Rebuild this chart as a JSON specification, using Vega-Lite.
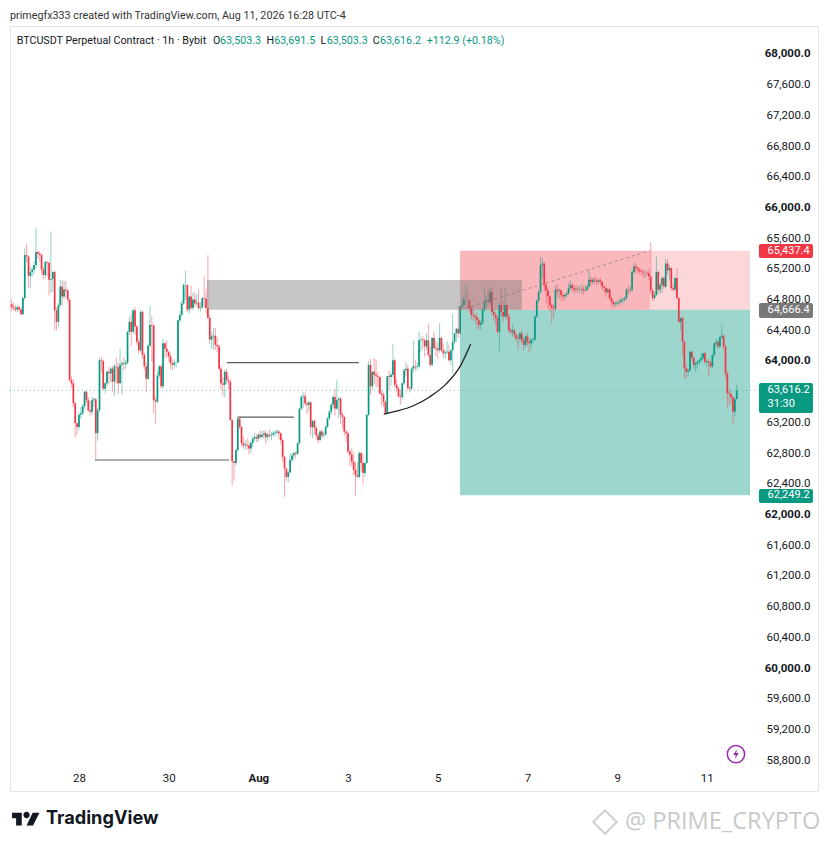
{"$schema":"https://vega.github.io/schema/vega-lite/v6.json","width":808,"height":765,"autosize":"none","padding":{"left":10,"top":26,"right":10,"bottom":56},"background":"white","config":{"view":{"stroke":"#e0e3eb"},"font":"Roboto"},"resolve":{"scale":{"color":"independent"}},
"title":{"text":"primegfx333 created with TradingView.com, Aug 11, 2026 16:28 UTC-4","anchor":"start","frame":"group","font":"Roboto","fontSize":10.75,"fontWeight":"normal","color":"#333333","offset":4},
"datasets":{"candles":[
{"t":-36,"o":64740,"h":64800,"l":64650,"c":64700},{"t":-35,"o":64700,"h":64760,"l":64660,"c":64690},{"t":-34,"o":64690,"h":64730,"l":64640,"c":64670},{"t":-33,"o":64670,"h":64730,"l":64640,"c":64700},{"t":-32,"o":64700,"h":64720,"l":64640,"c":64670},{"t":-31,"o":64670,"h":64700,"l":64590,"c":64610},{"t":-30,"o":64610,"h":64830,"l":64600,"c":64820},{"t":-29,"o":64820,"h":65470,"l":64800,"c":65380},{"t":-28,"o":65380,"h":65530,"l":65280,"c":65360},{"t":-27,"o":65360,"h":65370,"l":64950,"c":65110},{"t":-26,"o":65110,"h":65230,"l":64950,"c":65160},{"t":-25,"o":65160,"h":65230,"l":65100,"c":65190},{"t":-24,"o":65190,"h":65300,"l":65130,"c":65250},{"t":-23,"o":65250,"h":65740,"l":65210,"c":65420},{"t":-22,"o":65420,"h":65440,"l":65330,"c":65400},{"t":-21,"o":65400,"h":65420,"l":65290,"c":65380},{"t":-20,"o":65380,"h":65400,"l":65130,"c":65190},{"t":-19,"o":65190,"h":65230,"l":65060,"c":65120},{"t":-18,"o":65120,"h":65310,"l":65080,"c":65290},{"t":-17,"o":65290,"h":65300,"l":65100,"c":65280},{"t":-16,"o":65280,"h":65290,"l":64850,"c":65060},{"t":-15,"o":65060,"h":65690,"l":64880,"c":65070},{"t":-14,"o":65070,"h":65170,"l":64900,"c":65160},{"t":-13,"o":65160,"h":65180,"l":64400,"c":64660},{"t":-12,"o":64660,"h":64700,"l":64400,"c":64510},{"t":-11,"o":64510,"h":64760,"l":64440,"c":64730},{"t":-10,"o":64730,"h":65060,"l":64700,"c":64970},{"t":-9,"o":64970,"h":65050,"l":64720,"c":64840},{"t":-8,"o":64840,"h":65050,"l":64800,"c":64930},{"t":-7,"o":64930,"h":65040,"l":64820,"c":64920},{"t":-6,"o":64920,"h":64940,"l":64760,"c":64800},{"t":-5,"o":64800,"h":64810,"l":63730,"c":63750},{"t":-4,"o":63750,"h":63800,"l":63650,"c":63710},{"t":-3,"o":63710,"h":63760,"l":63400,"c":63450},{"t":-2,"o":63450,"h":63470,"l":63000,"c":63190},{"t":-1,"o":63190,"h":63200,"l":63040,"c":63140},
{"t":0,"o":63140,"h":63330,"l":63100,"c":63300},{"t":1,"o":63300,"h":63400,"l":63250,"c":63320},{"t":2,"o":63320,"h":63440,"l":63290,"c":63410},{"t":3,"o":63410,"h":63610,"l":63380,"c":63600},{"t":4,"o":63600,"h":63610,"l":63450,"c":63490},{"t":5,"o":63490,"h":63530,"l":63330,"c":63360},{"t":6,"o":63360,"h":63480,"l":63290,"c":63340},{"t":7,"o":63340,"h":63530,"l":63300,"c":63490},{"t":8,"o":63490,"h":63530,"l":63400,"c":63500},{"t":9,"o":63500,"h":63520,"l":62710,"c":63060},{"t":10,"o":63060,"h":63390,"l":62960,"c":63360},{"t":11,"o":63360,"h":64040,"l":63340,"c":64010},{"t":12,"o":64010,"h":64060,"l":63850,"c":64000},{"t":13,"o":64000,"h":64020,"l":63620,"c":63640},{"t":14,"o":63640,"h":63730,"l":63580,"c":63710},{"t":15,"o":63710,"h":63880,"l":63680,"c":63860},{"t":16,"o":63860,"h":63920,"l":63700,"c":63840},{"t":17,"o":63840,"h":63920,"l":63720,"c":63900},{"t":18,"o":63900,"h":63940,"l":63600,"c":63730},{"t":19,"o":63730,"h":63960,"l":63540,"c":63930},{"t":20,"o":63930,"h":64040,"l":63700,"c":63920},{"t":21,"o":63920,"h":63980,"l":63570,"c":63710},{"t":22,"o":63710,"h":64160,"l":63700,"c":63950},{"t":23,"o":63950,"h":64000,"l":63560,"c":63970},{"t":24,"o":63970,"h":64050,"l":63880,"c":63960},{"t":25,"o":63960,"h":64010,"l":63900,"c":63980},{"t":26,"o":63980,"h":64390,"l":63950,"c":64380},{"t":27,"o":64380,"h":64580,"l":64340,"c":64510},{"t":28,"o":64510,"h":64620,"l":64200,"c":64380},{"t":29,"o":64380,"h":64680,"l":64360,"c":64660},{"t":30,"o":64660,"h":64700,"l":64340,"c":64450},{"t":31,"o":64450,"h":64470,"l":64210,"c":64250},{"t":32,"o":64250,"h":64290,"l":64090,"c":64140},{"t":33,"o":64140,"h":64660,"l":64120,"c":64640},{"t":34,"o":64640,"h":64660,"l":64030,"c":64080},{"t":35,"o":64080,"h":64110,"l":63880,"c":63930},{"t":36,"o":63930,"h":63980,"l":63600,"c":63770},{"t":37,"o":63770,"h":64220,"l":63750,"c":64200},{"t":38,"o":64200,"h":64720,"l":64180,"c":64470},{"t":39,"o":64470,"h":64580,"l":63990,"c":64460},{"t":40,"o":64460,"h":64480,"l":63320,"c":63490},{"t":41,"o":63490,"h":63530,"l":63180,"c":63470},{"t":42,"o":63470,"h":63860,"l":63450,"c":63810},{"t":43,"o":63810,"h":63950,"l":63780,"c":63930},{"t":44,"o":63930,"h":63960,"l":63640,"c":63670},{"t":45,"o":63670,"h":64290,"l":63650,"c":64230},{"t":46,"o":64230,"h":64240,"l":64040,"c":64160},{"t":47,"o":64160,"h":64270,"l":64050,"c":64120},{"t":48,"o":64120,"h":64130,"l":63990,"c":64060},{"t":49,"o":64060,"h":64100,"l":63890,"c":63970},{"t":50,"o":63970,"h":64020,"l":63880,"c":63950},{"t":51,"o":63950,"h":64020,"l":63920,"c":63980},{"t":52,"o":63980,"h":64000,"l":63910,"c":63980},{"t":53,"o":63980,"h":64540,"l":63970,"c":64530},{"t":54,"o":64530,"h":64650,"l":64500,"c":64600},{"t":55,"o":64600,"h":64790,"l":64580,"c":64750},{"t":56,"o":64750,"h":65010,"l":64730,"c":64990},{"t":57,"o":64990,"h":65180,"l":64800,"c":64990},{"t":58,"o":64990,"h":65000,"l":64640,"c":64670},{"t":59,"o":64670,"h":64860,"l":64620,"c":64840},{"t":60,"o":64840,"h":64980,"l":64660,"c":64690},{"t":61,"o":64690,"h":64890,"l":64660,"c":64800},{"t":62,"o":64800,"h":64900,"l":64700,"c":64750},{"t":63,"o":64750,"h":64870,"l":64720,"c":64760},{"t":64,"o":64760,"h":64930,"l":64660,"c":64690},{"t":65,"o":64690,"h":64770,"l":64640,"c":64700},{"t":66,"o":64700,"h":64830,"l":64670,"c":64820},{"t":67,"o":64820,"h":65100,"l":64700,"c":64810},{"t":68,"o":64810,"h":64940,"l":64620,"c":64690},{"t":69,"o":64690,"h":65380,"l":64550,"c":64560},{"t":70,"o":64560,"h":64600,"l":64220,"c":64280},{"t":71,"o":64280,"h":64380,"l":64160,"c":64320},{"t":72,"o":64320,"h":64430,"l":64150,"c":64330},{"t":73,"o":64330,"h":64430,"l":64140,"c":64210},{"t":74,"o":64210,"h":64310,"l":64110,"c":64190},{"t":75,"o":64190,"h":64210,"l":63880,"c":63900},{"t":76,"o":63900,"h":63930,"l":63620,"c":63710},{"t":77,"o":63710,"h":63790,"l":63540,"c":63690},{"t":78,"o":63690,"h":63890,"l":63530,"c":63860},{"t":79,"o":63860,"h":63900,"l":63700,"c":63750},{"t":80,"o":63750,"h":63800,"l":63620,"c":63730},{"t":81,"o":63730,"h":63760,"l":63220,"c":63230},{"t":82,"o":63230,"h":63240,"l":62380,"c":62690},{"t":83,"o":62690,"h":62700,"l":62440,"c":62670},{"t":84,"o":62670,"h":62860,"l":62640,"c":62840},{"t":85,"o":62840,"h":63270,"l":62820,"c":63250},{"t":86,"o":63250,"h":63270,"l":63110,"c":63140},{"t":87,"o":63140,"h":63160,"l":62880,"c":62930},{"t":88,"o":62930,"h":63010,"l":62860,"c":62900},{"t":89,"o":62900,"h":62970,"l":62840,"c":62910},{"t":90,"o":62910,"h":62990,"l":62850,"c":62900},{"t":91,"o":62900,"h":62950,"l":62780,"c":62860},{"t":92,"o":62860,"h":62960,"l":62800,"c":62930},{"t":93,"o":62930,"h":63020,"l":62880,"c":62990},{"t":94,"o":62990,"h":63060,"l":62960,"c":63010},{"t":95,"o":63010,"h":63040,"l":62940,"c":62990},
{"t":96,"o":62990,"h":63060,"l":62950,"c":63040},{"t":97,"o":63040,"h":63100,"l":62980,"c":63010},{"t":98,"o":63010,"h":63090,"l":62990,"c":63040},{"t":99,"o":63040,"h":63100,"l":62980,"c":63060},{"t":100,"o":63060,"h":63090,"l":62920,"c":63010},{"t":101,"o":63010,"h":63060,"l":62960,"c":63040},{"t":102,"o":63040,"h":63110,"l":63000,"c":63030},{"t":103,"o":63030,"h":63080,"l":62970,"c":63040},{"t":104,"o":63040,"h":63090,"l":63010,"c":63060},{"t":105,"o":63060,"h":63100,"l":63020,"c":63070},{"t":106,"o":63070,"h":63110,"l":63030,"c":63080},{"t":107,"o":63080,"h":63100,"l":62980,"c":63060},{"t":108,"o":63060,"h":63070,"l":62920,"c":62970},{"t":109,"o":62970,"h":62990,"l":62690,"c":62750},{"t":110,"o":62750,"h":62770,"l":62230,"c":62600},{"t":111,"o":62600,"h":62610,"l":62440,"c":62490},{"t":112,"o":62490,"h":62570,"l":62420,"c":62550},{"t":113,"o":62550,"h":62800,"l":62530,"c":62710},{"t":114,"o":62710,"h":62800,"l":62680,"c":62770},{"t":115,"o":62770,"h":62820,"l":62720,"c":62800},{"t":116,"o":62800,"h":62830,"l":62730,"c":62790},{"t":117,"o":62790,"h":62940,"l":62780,"c":62930},{"t":118,"o":62930,"h":63390,"l":62910,"c":63380},{"t":119,"o":63380,"h":63560,"l":63360,"c":63530},{"t":120,"o":63530,"h":63590,"l":63390,"c":63540},{"t":121,"o":63540,"h":63590,"l":63420,"c":63450},{"t":122,"o":63450,"h":63470,"l":63310,"c":63430},{"t":123,"o":63430,"h":63480,"l":63340,"c":63460},{"t":124,"o":63460,"h":63470,"l":63030,"c":63140},{"t":125,"o":63140,"h":63230,"l":62990,"c":63220},{"t":126,"o":63220,"h":63240,"l":63040,"c":63130},{"t":127,"o":63130,"h":63150,"l":62980,"c":63030},{"t":128,"o":63030,"h":63060,"l":62930,"c":62970},{"t":129,"o":62970,"h":63100,"l":62950,"c":63080},{"t":130,"o":63080,"h":63110,"l":62990,"c":63030},{"t":131,"o":63030,"h":63080,"l":63000,"c":63040},{"t":132,"o":63040,"h":63160,"l":63030,"c":63140},{"t":133,"o":63140,"h":63270,"l":63130,"c":63250},{"t":134,"o":63250,"h":63360,"l":63230,"c":63340},{"t":135,"o":63340,"h":63450,"l":63300,"c":63430},{"t":136,"o":63430,"h":63560,"l":63380,"c":63530},{"t":137,"o":63530,"h":63640,"l":63290,"c":63380},{"t":138,"o":63380,"h":63760,"l":63360,"c":63490},{"t":139,"o":63490,"h":63530,"l":63250,"c":63510},{"t":140,"o":63510,"h":63530,"l":63180,"c":63300},{"t":141,"o":63300,"h":63330,"l":63120,"c":63270},{"t":142,"o":63270,"h":63290,"l":63030,"c":63080},{"t":143,"o":63080,"h":63100,"l":62940,"c":63060},{"t":144,"o":63060,"h":63080,"l":62790,"c":62820},{"t":145,"o":62820,"h":62840,"l":62620,"c":62780},{"t":146,"o":62780,"h":62870,"l":62640,"c":62690},{"t":147,"o":62690,"h":62820,"l":62510,"c":62580},{"t":148,"o":62580,"h":62680,"l":62250,"c":62510},{"t":149,"o":62510,"h":62680,"l":62480,"c":62490},{"t":150,"o":62490,"h":62830,"l":62470,"c":62800},{"t":151,"o":62800,"h":62810,"l":62560,"c":62670},{"t":152,"o":62670,"h":62790,"l":62400,"c":62540},{"t":153,"o":62540,"h":62680,"l":62490,"c":62670},{"t":154,"o":62670,"h":63310,"l":62660,"c":63300},{"t":155,"o":63300,"h":64000,"l":63280,"c":63950},{"t":156,"o":63950,"h":64030,"l":63560,"c":63670},{"t":157,"o":63670,"h":63870,"l":63620,"c":63860},{"t":158,"o":63860,"h":64040,"l":63700,"c":63820},{"t":159,"o":63820,"h":64020,"l":63650,"c":63800},{"t":160,"o":63800,"h":63860,"l":63660,"c":63790},{"t":161,"o":63790,"h":63810,"l":63560,"c":63580},{"t":162,"o":63580,"h":63620,"l":63420,"c":63560},{"t":163,"o":63560,"h":63590,"l":63400,"c":63470},{"t":164,"o":63470,"h":63480,"l":63300,"c":63320},{"t":165,"o":63320,"h":63810,"l":63300,"c":63800},{"t":166,"o":63800,"h":63880,"l":63620,"c":63790},{"t":167,"o":63790,"h":63850,"l":63680,"c":63820},{"t":168,"o":63820,"h":64220,"l":63790,"c":64010},{"t":169,"o":64010,"h":64030,"l":63660,"c":63690},{"t":170,"o":63690,"h":63760,"l":63600,"c":63640},{"t":171,"o":63640,"h":63670,"l":63520,"c":63540},{"t":172,"o":63540,"h":63630,"l":63430,"c":63530},{"t":173,"o":63530,"h":63720,"l":63500,"c":63710},{"t":174,"o":63710,"h":63900,"l":63690,"c":63880},{"t":175,"o":63880,"h":63990,"l":63800,"c":63900},{"t":176,"o":63900,"h":63950,"l":63620,"c":63650},{"t":177,"o":63650,"h":63670,"l":63590,"c":63640},{"t":178,"o":63640,"h":63920,"l":63620,"c":63900},{"t":179,"o":63900,"h":64260,"l":63850,"c":63930},{"t":180,"o":63930,"h":64020,"l":63870,"c":63920},{"t":181,"o":63920,"h":63980,"l":63880,"c":63930},{"t":182,"o":63930,"h":64380,"l":63910,"c":64270},{"t":183,"o":64270,"h":64310,"l":64120,"c":64280},{"t":184,"o":64280,"h":64330,"l":64150,"c":64270},{"t":185,"o":64270,"h":64300,"l":64050,"c":64190},{"t":186,"o":64190,"h":64360,"l":64150,"c":64270},{"t":187,"o":64270,"h":64490,"l":64050,"c":64080},{"t":188,"o":64080,"h":64190,"l":63920,"c":63950},{"t":189,"o":63950,"h":64310,"l":63930,"c":64300},{"t":190,"o":64300,"h":64380,"l":64140,"c":64170},{"t":191,"o":64170,"h":64260,"l":64060,"c":64160},{"t":192,"o":64160,"h":64240,"l":64030,"c":64140},{"t":193,"o":64140,"h":64490,"l":64110,"c":64300},{"t":194,"o":64300,"h":64320,"l":64120,"c":64140},{"t":195,"o":64140,"h":64230,"l":64040,"c":64100},{"t":196,"o":64100,"h":64150,"l":64030,"c":64110},{"t":197,"o":64110,"h":64260,"l":64090,"c":64120},{"t":198,"o":64120,"h":64210,"l":63990,"c":64010},{"t":199,"o":64010,"h":64150,"l":63950,"c":64140},{"t":200,"o":64140,"h":64620,"l":63840,"c":64250},{"t":201,"o":64250,"h":64370,"l":64220,"c":64360},{"t":202,"o":64360,"h":64430,"l":64250,"c":64420},{"t":203,"o":64420,"h":64710,"l":64300,"c":64360},
{"t":204,"o":64360,"h":64720,"l":64340,"c":64710},{"t":205,"o":64710,"h":64830,"l":64690,"c":64730},{"t":206,"o":64730,"h":64880,"l":64700,"c":64800},{"t":207,"o":64800,"h":64990,"l":64720,"c":64800},{"t":208,"o":64800,"h":64920,"l":64700,"c":64790},{"t":209,"o":64790,"h":64800,"l":64640,"c":64690},{"t":210,"o":64690,"h":64720,"l":64540,"c":64600},{"t":211,"o":64600,"h":64680,"l":64530,"c":64590},{"t":212,"o":64590,"h":64620,"l":64480,"c":64570},{"t":213,"o":64570,"h":64630,"l":64420,"c":64530},{"t":214,"o":64530,"h":64560,"l":64400,"c":64470},{"t":215,"o":64470,"h":64530,"l":64400,"c":64500},{"t":216,"o":64500,"h":64690,"l":64470,"c":64670},{"t":217,"o":64670,"h":64970,"l":64640,"c":64770},{"t":218,"o":64770,"h":64850,"l":64690,"c":64790},{"t":219,"o":64790,"h":64930,"l":64730,"c":64770},{"t":220,"o":64770,"h":64960,"l":64740,"c":64900},{"t":221,"o":64900,"h":64960,"l":64590,"c":64640},{"t":222,"o":64640,"h":64680,"l":64520,"c":64600},{"t":223,"o":64600,"h":64640,"l":64460,"c":64560},{"t":224,"o":64560,"h":64590,"l":64350,"c":64380},{"t":225,"o":64380,"h":64750,"l":64130,"c":64730},{"t":226,"o":64730,"h":64950,"l":64580,"c":64640},{"t":227,"o":64640,"h":64780,"l":64510,"c":64580},{"t":228,"o":64580,"h":64950,"l":64560,"c":64730},{"t":229,"o":64730,"h":64750,"l":64530,"c":64580},{"t":230,"o":64580,"h":64620,"l":64370,"c":64400},{"t":231,"o":64400,"h":64440,"l":64340,"c":64380},{"t":232,"o":64380,"h":64470,"l":64320,"c":64400},{"t":233,"o":64400,"h":64420,"l":64290,"c":64340},{"t":234,"o":64340,"h":64370,"l":64250,"c":64300},{"t":235,"o":64300,"h":64350,"l":64150,"c":64290},{"t":236,"o":64290,"h":64380,"l":64240,"c":64360},{"t":237,"o":64360,"h":64400,"l":64230,"c":64270},{"t":238,"o":64270,"h":64300,"l":64140,"c":64210},{"t":239,"o":64210,"h":64340,"l":64170,"c":64320},{"t":240,"o":64320,"h":64370,"l":64200,"c":64250},{"t":241,"o":64250,"h":64300,"l":64110,"c":64230},{"t":242,"o":64230,"h":64300,"l":64170,"c":64270},{"t":243,"o":64270,"h":64310,"l":64220,"c":64280},{"t":244,"o":64280,"h":64590,"l":64260,"c":64580},{"t":245,"o":64580,"h":64800,"l":64560,"c":64790},{"t":246,"o":64790,"h":64930,"l":64760,"c":64900},{"t":247,"o":64900,"h":65360,"l":64880,"c":65250},{"t":248,"o":65250,"h":65330,"l":65080,"c":65270},{"t":249,"o":65270,"h":65290,"l":64910,"c":64990},{"t":250,"o":64990,"h":65030,"l":64750,"c":64920},{"t":251,"o":64920,"h":64950,"l":64680,"c":64840},{"t":252,"o":64840,"h":64860,"l":64640,"c":64730},{"t":253,"o":64730,"h":64750,"l":64490,"c":64690},{"t":254,"o":64690,"h":64740,"l":64560,"c":64680},{"t":255,"o":64680,"h":64990,"l":64650,"c":64930},{"t":256,"o":64930,"h":65000,"l":64830,"c":64910},{"t":257,"o":64910,"h":64950,"l":64810,"c":64920},{"t":258,"o":64920,"h":64940,"l":64790,"c":64860},{"t":259,"o":64860,"h":64880,"l":64770,"c":64840},{"t":260,"o":64840,"h":64880,"l":64800,"c":64860},{"t":261,"o":64860,"h":64900,"l":64830,"c":64880},{"t":262,"o":64880,"h":65020,"l":64860,"c":64950},{"t":263,"o":64950,"h":65050,"l":64920,"c":64990},{"t":264,"o":64990,"h":65020,"l":64900,"c":64950},{"t":265,"o":64950,"h":64990,"l":64880,"c":64930},{"t":266,"o":64930,"h":64980,"l":64890,"c":64940},{"t":267,"o":64940,"h":64990,"l":64890,"c":64930},{"t":268,"o":64930,"h":64970,"l":64880,"c":64930},{"t":269,"o":64930,"h":65000,"l":64880,"c":64940},{"t":270,"o":64940,"h":64980,"l":64860,"c":64920},{"t":271,"o":64920,"h":64990,"l":64900,"c":64930},{"t":272,"o":64930,"h":65000,"l":64910,"c":64970},{"t":273,"o":64970,"h":65190,"l":64950,"c":65060},{"t":274,"o":65060,"h":65100,"l":64980,"c":65030},{"t":275,"o":65030,"h":65090,"l":64990,"c":65060},{"t":276,"o":65060,"h":65110,"l":65010,"c":65050},{"t":277,"o":65050,"h":65080,"l":64980,"c":65030},{"t":278,"o":65030,"h":65070,"l":65000,"c":65050},{"t":279,"o":65050,"h":65090,"l":64990,"c":65030},{"t":280,"o":65030,"h":65040,"l":64930,"c":64970},{"t":281,"o":64970,"h":64990,"l":64890,"c":64950},{"t":282,"o":64950,"h":64970,"l":64830,"c":64900},{"t":283,"o":64900,"h":64950,"l":64870,"c":64930},{"t":284,"o":64930,"h":64950,"l":64790,"c":64820},{"t":285,"o":64820,"h":64850,"l":64710,"c":64770},{"t":286,"o":64770,"h":64800,"l":64690,"c":64740},{"t":287,"o":64740,"h":64780,"l":64700,"c":64750},{"t":288,"o":64750,"h":64790,"l":64720,"c":64760},{"t":289,"o":64760,"h":64800,"l":64730,"c":64770},{"t":290,"o":64770,"h":64830,"l":64740,"c":64790},{"t":291,"o":64790,"h":64830,"l":64750,"c":64800},{"t":292,"o":64800,"h":64840,"l":64770,"c":64820},{"t":293,"o":64820,"h":64950,"l":64790,"c":64930},{"t":294,"o":64930,"h":64980,"l":64860,"c":64920},{"t":295,"o":64920,"h":64970,"l":64880,"c":64930},{"t":296,"o":64930,"h":65190,"l":64900,"c":65160},{"t":297,"o":65160,"h":65280,"l":65130,"c":65230},{"t":298,"o":65230,"h":65270,"l":65150,"c":65210},{"t":299,"o":65210,"h":65240,"l":65150,"c":65190},{"t":300,"o":65190,"h":65220,"l":65130,"c":65170},{"t":301,"o":65170,"h":65200,"l":65110,"c":65160},{"t":302,"o":65160,"h":65190,"l":65090,"c":65150},{"t":303,"o":65150,"h":65180,"l":65080,"c":65150},{"t":304,"o":65150,"h":65170,"l":65110,"c":65140},{"t":305,"o":65140,"h":65200,"l":65050,"c":65100},{"t":306,"o":65100,"h":65550,"l":64870,"c":64920},{"t":307,"o":64920,"h":64950,"l":64780,"c":64820},{"t":308,"o":64820,"h":64900,"l":64800,"c":64860},{"t":309,"o":64860,"h":65360,"l":64840,"c":65160},{"t":310,"o":65160,"h":65180,"l":64890,"c":64930},{"t":311,"o":64930,"h":65020,"l":64870,"c":64990},{"t":312,"o":64990,"h":65100,"l":64890,"c":65080},{"t":313,"o":65080,"h":65110,"l":64940,"c":64970},{"t":314,"o":64970,"h":65330,"l":64950,"c":65270},{"t":315,"o":65270,"h":65320,"l":65130,"c":65180},{"t":316,"o":65180,"h":65250,"l":65060,"c":65210},{"t":317,"o":65210,"h":65220,"l":64920,"c":64950},{"t":318,"o":64950,"h":65010,"l":64910,"c":64930},{"t":319,"o":64930,"h":65090,"l":64910,"c":65080},{"t":320,"o":65080,"h":65210,"l":64800,"c":64820},{"t":321,"o":64820,"h":64830,"l":64500,"c":64510},{"t":322,"o":64510,"h":64570,"l":64400,"c":64560},{"t":323,"o":64560,"h":64580,"l":64080,"c":64250},{"t":324,"o":64250,"h":64270,"l":63770,"c":63910},{"t":325,"o":63910,"h":63950,"l":63770,"c":63860},{"t":326,"o":63860,"h":63900,"l":63800,"c":63880},{"t":327,"o":63880,"h":64130,"l":63860,"c":64120},{"t":328,"o":64120,"h":64130,"l":64000,"c":64040},{"t":329,"o":64040,"h":64060,"l":63900,"c":63950},{"t":330,"o":63950,"h":63990,"l":63860,"c":63970},{"t":331,"o":63970,"h":64010,"l":63900,"c":63990},{"t":332,"o":63990,"h":64030,"l":63950,"c":64010},{"t":333,"o":64010,"h":64100,"l":63980,"c":64040},{"t":334,"o":64040,"h":64110,"l":64010,"c":64100},{"t":335,"o":64100,"h":64120,"l":63960,"c":63990},{"t":336,"o":63990,"h":64020,"l":63930,"c":64000},{"t":337,"o":64000,"h":64030,"l":63800,"c":63980},{"t":338,"o":63980,"h":64000,"l":63900,"c":63930},{"t":339,"o":63930,"h":64090,"l":63910,"c":64080},{"t":340,"o":64080,"h":64240,"l":64060,"c":64230},{"t":341,"o":64230,"h":64290,"l":64180,"c":64250},{"t":342,"o":64250,"h":64270,"l":64150,"c":64190},{"t":343,"o":64190,"h":64320,"l":64170,"c":64310},{"t":344,"o":64310,"h":64470,"l":64290,"c":64330},{"t":345,"o":64330,"h":64350,"l":64140,"c":64190},{"t":346,"o":64190,"h":64210,"l":63780,"c":63840},{"t":347,"o":63840,"h":63860,"l":63400,"c":63580},{"t":348,"o":63580,"h":63620,"l":63420,"c":63570},{"t":349,"o":63570,"h":63610,"l":63440,"c":63530},{"t":350,"o":63530,"h":63540,"l":63190,"c":63340},{"t":351,"o":63340,"h":63520,"l":63280,"c":63503.3},{"t":352,"o":63503.3,"h":63691.5,"l":63503.3,"c":63616.2}
]},
"encoding":{"x":{"field":"t","type":"quantitative","title":null,"scale":{"domain":[-36.9,395.5],"nice":false,"zero":false},"axis":{"orient":"bottom","offset":-20,"values":[0,48,96,144,192,240,288,336],"labelExpr":"{'0':'28','48':'30','96':'Aug','144':'3','192':'5','240':'7','288':'9','336':'11'}[datum.value]","domain":false,"ticks":false,"grid":false,"labelPadding":1,"labelFont":"Roboto","labelFontSize":11.5,"labelColor":"#131722","labelFontWeight":{"condition":{"test":"datum.value===96","value":"bold"},"value":"normal"},"labelFlush":false,"labelOverlap":false}},
"y":{"field":"p","type":"quantitative","title":null,"scale":{"domain":[58397.4,68364.8],"nice":false,"zero":false},"axis":{"orient":"right","offset":-8,"values":[58800,59200,59600,60000,60400,60800,61200,61600,62000,62400,62800,63200,64000,64400,64800,65200,65600,66000,66400,66800,67200,67600,68000],"format":",.1f","domain":false,"ticks":false,"grid":false,"labelPadding":0,"labelAlign":"right","labelFont":"Roboto","labelFontSize":11.5,"labelColor":"#131722","labelFontWeight":{"condition":{"test":"datum.value%2000===0","value":"bold"},"value":"normal"},"labelOverlap":false}}},
"layer":[
{"data":{"values":[{"name":"Target","t":203.9,"t2":359.1,"p":64666.4,"p2":62249.2},{"name":"Stop","t":203.9,"t2":359.1,"p":65437.4,"p2":64666.4},{"name":"Stop reached","t":203.9,"t2":305.6,"p":65437.4,"p2":64666.4}]},"mark":{"type":"rect"},"encoding":{"x2":{"field":"t2"},"y2":{"field":"p2"},"color":{"field":"name","legend":null,"scale":{"domain":["Target","Stop","Stop reached"],"range":["rgba(8,153,129,0.4)","rgba(242,54,69,0.2)","rgba(242,54,69,0.2)"]}}}},
{"data":{"values":[{"t":-36.9,"t2":362,"p":63616.2}]},"mark":{"type":"rule","color":"#089981","strokeWidth":1,"strokeDash":[1,3],"opacity":0.5},"encoding":{"x2":{"field":"t2"}}},
{"data":{"name":"candles"},"mark":{"type":"rule","strokeWidth":1,"opacity":0.45},"encoding":{"y":{"field":"l","type":"quantitative","scale":{"domain":[58397.4,68364.8],"nice":false,"zero":false}},"y2":{"field":"h"},"color":{"condition":{"test":"datum.c>=datum.o","value":"#089981"},"value":"#F23645"}}},
{"data":{"name":"candles"},"mark":{"type":"rule","strokeWidth":1.7},"encoding":{"y":{"field":"o","type":"quantitative","scale":{"domain":[58397.4,68364.8],"nice":false,"zero":false}},"y2":{"field":"c"},"color":{"condition":{"test":"datum.c>=datum.o","value":"#089981"},"value":"#F23645"}}},
{"data":{"values":[{"t":68.5,"t2":237.1,"p":65055,"p2":64666.4}]},"mark":{"type":"rect","color":"rgba(120,120,120,0.42)"},"encoding":{"x2":{"field":"t2"},"y2":{"field":"p2"}}},
{"data":{"values":[{"t":203.9,"t2":305.6,"p":64666.4,"p2":65437.4}]},"mark":{"type":"rule","color":"#787878","strokeWidth":1,"strokeDash":[3,3],"opacity":0.7},"encoding":{"x2":{"field":"t2"},"y2":{"field":"p2"}}},
{"data":{"values":[{"t":8.6,"t2":80.3,"p":62710},{"t":79.2,"t2":149.8,"p":63980},{"t":85,"t2":115,"p":63270}]},"mark":{"type":"rule","color":"#5d5d5d","strokeWidth":1.2},"encoding":{"x2":{"field":"t2"}}},
{"data":{"values":[{"t":163.1,"p":63309},{"t":170,"p":63348},{"t":178.7,"p":63414},{"t":187.8,"p":63535},{"t":196.8,"p":63709},{"t":203.9,"p":63926},{"t":209.6,"p":64218}]},"mark":{"type":"line","color":"#222222","strokeWidth":1.3,"interpolate":"monotone"},"encoding":{"order":{"field":"t"}}},
{"data":{"values":[{"name":"Stop","t":363.9,"t2":392.8,"p":65525,"p2":65342},{"name":"Entry","t":363.9,"t2":392.8,"p":64756,"p2":64560},{"name":"Last","t":363.9,"t2":392.8,"p":63713,"p2":63322},{"name":"Target","t":363.9,"t2":392.8,"p":62332,"p2":62150}]},"mark":{"type":"rect","cornerRadius":2},"encoding":{"x2":{"field":"t2"},"y2":{"field":"p2"},"color":{"field":"name","legend":null,"scale":{"domain":["Stop","Entry","Last","Target"],"range":["#F23645","#787878","#089981","#089981"]}}}},
{"data":{"values":[{"t":368.5,"p":65437.4,"label":"65,437.4"},{"t":368.5,"p":64666.4,"label":"64,666.4"},{"t":368.5,"p":63616.2,"label":"63,616.2"},{"t":368.5,"p":63440,"label":"31:30"},{"t":368.5,"p":62249.2,"label":"62,249.2"}]},"mark":{"type":"text","align":"left","baseline":"middle","font":"Roboto","fontSize":11,"color":"#ffffff"},"encoding":{"text":{"field":"label"}}},
{"data":{"values":[{"t":-33.3,"p":68170,"label":"BTCUSDT Perpetual Contract · 1h · Bybit","role":"label"},{"t":71.7,"p":68170,"label":"O","role":"label"},{"t":75.5,"p":68170,"label":"63,503.3","role":"value"},{"t":100.4,"p":68170,"label":"H","role":"label"},{"t":104.5,"p":68170,"label":"63,691.5","role":"value"},{"t":129.3,"p":68170,"label":"L","role":"label"},{"t":132.6,"p":68170,"label":"63,503.3","role":"value"},{"t":157.2,"p":68170,"label":"C","role":"label"},{"t":161.1,"p":68170,"label":"63,616.2","role":"value"},{"t":186.1,"p":68170,"label":"+112.9 (+0.18%)","role":"value"}]},"mark":{"type":"text","align":"left","baseline":"middle","font":"Roboto","fontSize":10.7},"encoding":{"text":{"field":"label"},"color":{"field":"role","legend":null,"scale":{"domain":["label","value"],"range":["#131722","#089981"]}}}},
{"data":{"values":[{"t":-17.7,"p":58032,"label":"TradingView"}]},"mark":{"type":"text","align":"left","baseline":"middle","font":"Inter","fontWeight":"bold","fontSize":18.2,"color":"#131722"},"encoding":{"text":{"field":"label"}}},
{"data":{"values":[{"t":-28.9,"p":58032}]},"mark":{"type":"point","filled":true,"opacity":1,"color":"#131722","size":841,"shape":"M-0.22 -0.44H-0.89V-0.06H-0.61V0.44H-0.22ZM0.56 0.44H0.11L0.53 -0.44H1ZM-0.11 -0.28a0.22 0.22 0 1 0 0.44 0a0.22 0.22 0 1 0 -0.44 0Z"}},
{"data":{"values":[{"t":292.2,"p":57993,"label":"@ PRIME_CRYPTO"}]},"mark":{"type":"text","align":"left","baseline":"middle","font":"Open Sans","fontSize":23.6,"color":"#c9c9c9"},"encoding":{"text":{"field":"label"}}},
{"data":{"values":[{"t":281.5,"p":57993}]},"mark":{"type":"point","shape":"diamond","filled":false,"size":550,"color":"#cfcfcf","strokeWidth":2,"opacity":1}},
{"data":{"values":[{"t":351.6,"p":58879}]},"mark":{"type":"point","shape":"circle","filled":false,"size":300,"color":"#9C27B0","strokeWidth":1.5,"opacity":1}},
{"data":{"values":[{"t":351.6,"p":58879}]},"mark":{"type":"point","filled":true,"opacity":1,"color":"#9C27B0","size":90,"shape":"M0.2 -1L-0.6 0.2L-0.05 0.2L-0.2 1L0.6 -0.2L0.05 -0.2Z"}}
]}
